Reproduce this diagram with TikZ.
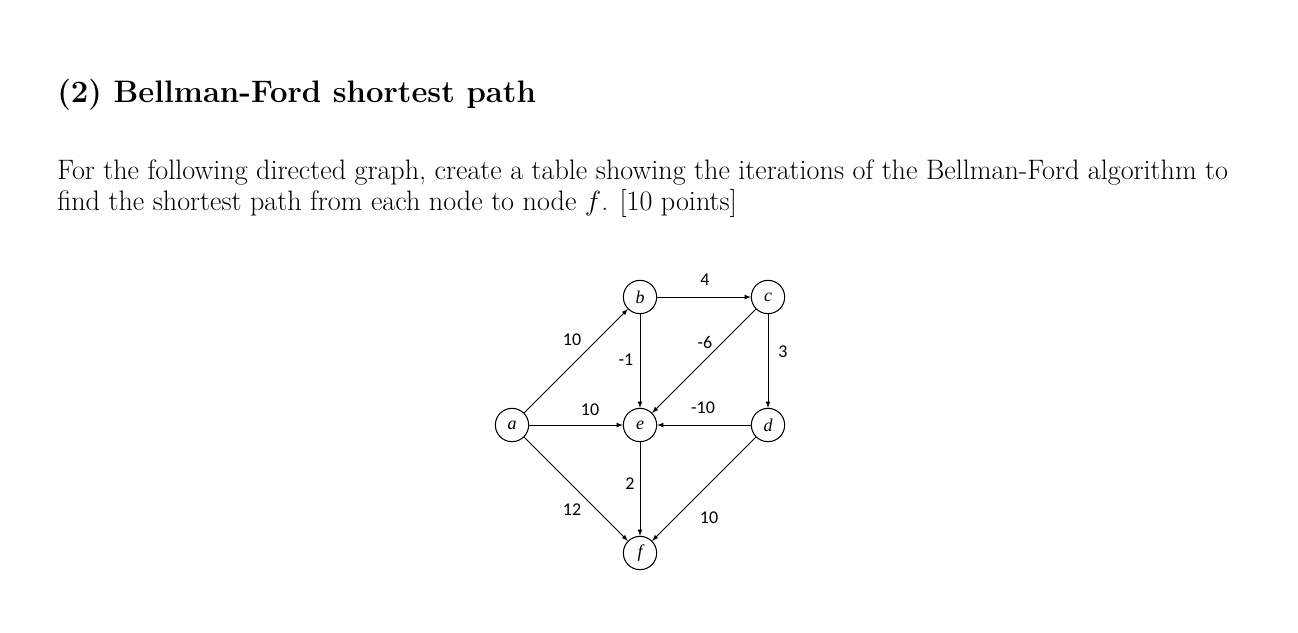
\documentclass[tikz,border=0pt]{standalone}
\usepackage{fontspec}
\newfontfamily\lab{Carlito}
\newfontfamily\nfont{Liberation Serif}
\begin{document}
\begin{tikzpicture}[x=0.75pt,y=-0.75pt,
 vtx/.style={circle,draw,line width=0.8pt,minimum size=25pt,inner sep=0pt,font=\nfont\fontsize{13.5}{14}\selectfont\itshape},
 arr/.style={-latex,line width=0.6pt},
 wl/.style={font=\lab\fontsize{13.5}{14}\selectfont}]
\useasboundingbox (0,0) rectangle (1298,632);
\node[anchor=base west,font=\bfseries\fontsize{23.3}{26}\selectfont,inner sep=0] (t) at (57,102) {(2) Bellman-Ford shortest path};
\node[anchor=base west,font=\fontsize{21.1}{24}\selectfont,inner sep=0] (p1) at (57,179) {For the following directed graph, create a table showing the iterations of the Bellman-Ford algorithm to};
\node[anchor=base west,font=\fontsize{21.1}{24}\selectfont,inner sep=0] (p2) at (57,210) {find the shortest path from each node to node $f$. [10 points]};
\node[vtx] (a) at (512,425) {a};
\node[vtx] (b) at (640,297) {b};
\node[vtx] (c) at (768,297) {c};
\node[vtx] (e) at (640,425) {e};
\node[vtx] (d) at (768,425) {d};
\node[vtx] (f) at (640,553) {f};
\draw[arr] (a) -- (b);
\draw[arr] (a) -- (e);
\draw[arr] (a) -- (f);
\draw[arr] (b) -- (c);
\draw[arr] (b) -- (e);
\draw[arr] (c) -- (e);
\draw[arr] (c) -- (d);
\draw[arr] (d) -- (e);
\draw[arr] (d) -- (f);
\draw[arr] (e) -- (f);
\node[wl] (l1) at (572,340) {10};
\node[wl] (l2) at (590,410) {10};
\node[wl] (l3) at (572,510) {12};
\node[wl] (l4) at (705,280) {4};
\node[wl] (l5) at (626,360) {-1};
\node[wl] (l6) at (705,342) {-6};
\node[wl] (l7) at (783,352) {3};
\node[wl] (l8) at (703,408) {-10};
\node[wl] (l9) at (630,484) {2};
\node[wl] (l10) at (709,518) {10};
\end{tikzpicture}
\end{document}
